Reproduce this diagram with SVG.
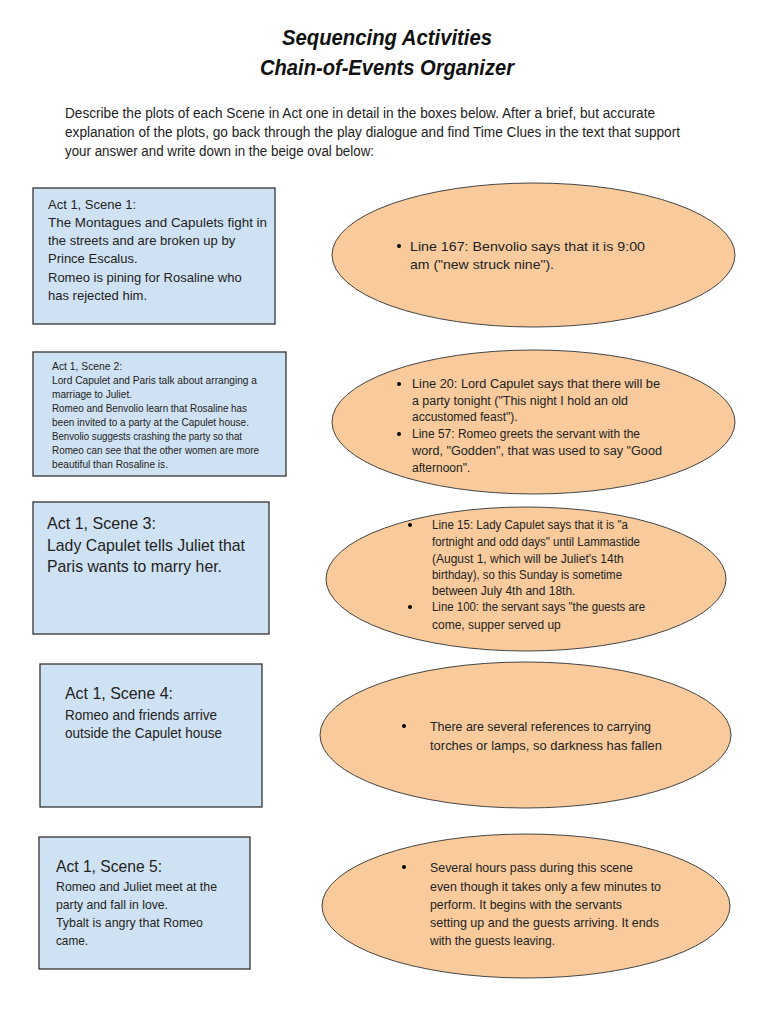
<svg xmlns="http://www.w3.org/2000/svg" width="768" height="1024" viewBox="0 0 768 1024">
<style>
text{font-family:"Liberation Sans",Arial,sans-serif;fill:#222}
.title{font-size:22px;font-weight:bold;font-style:italic;text-anchor:middle;fill:#111}
.intro{font-size:14px;fill:#333}
.box{fill:#cfe2f3;stroke:#333;stroke-width:1.3}
.oval{fill:#f9cb9c;stroke:#444;stroke-width:1}
.t13{font-size:13px}
.t10{font-size:10.2px}
.t17{font-size:17px}
.t14{font-size:14px}
.o12{font-size:12px}
.o13{font-size:13px}
</style>
<rect width="768" height="1024" fill="#fff"/>
<g id="title">
<text class="title" x="387" y="45" textLength="210" lengthAdjust="spacingAndGlyphs">Sequencing Activities</text>
<text class="title" x="387" y="75" textLength="254" lengthAdjust="spacingAndGlyphs">Chain-of-Events Organizer</text>
</g>
<g id="intro" class="intro">
<text x="65" y="118" textLength="590" lengthAdjust="spacingAndGlyphs">Describe the plots of each Scene in Act one in detail in the boxes below. After a brief, but accurate</text>
<text x="65" y="137" textLength="615" lengthAdjust="spacingAndGlyphs">explanation of the plots, go back through the play dialogue and find Time Clues in the text that support</text>
<text x="65" y="156" textLength="309" lengthAdjust="spacingAndGlyphs">your answer and write down in the beige oval below:</text>
</g>
<g id="scene1">
<rect class="box" x="33" y="188" width="242" height="136"/>
<g class="t13">
<text x="48" y="209">Act 1, Scene 1:</text>
<text x="48" y="227" textLength="219" lengthAdjust="spacingAndGlyphs">The Montagues and Capulets fight in</text>
<text x="48" y="245">the streets and are broken up by</text>
<text x="48" y="263">Prince Escalus.</text>
<text x="48" y="282">Romeo is pining for Rosaline who</text>
<text x="48" y="300">has rejected him.</text>
</g>
</g>
<g id="clue1">
<ellipse class="oval" cx="533.5" cy="255" rx="201.5" ry="72"/>
<circle cx="399" cy="246" r="2"/>
<g class="o13">
<text x="410" y="251" textLength="235" lengthAdjust="spacingAndGlyphs">Line 167: Benvolio says that it is 9:00</text>
<text x="410" y="269" textLength="144" lengthAdjust="spacingAndGlyphs">am ("new struck nine").</text>
</g>
</g>
<g id="scene2">
<rect class="box" x="33" y="352" width="253" height="124"/>
<g class="t10">
<text x="52" y="370" textLength="70" lengthAdjust="spacingAndGlyphs">Act 1, Scene 2:</text>
<text x="52" y="384" textLength="205" lengthAdjust="spacingAndGlyphs">Lord Capulet and Paris talk about arranging a</text>
<text x="52" y="398" textLength="80" lengthAdjust="spacingAndGlyphs">marriage to Juliet.</text>
<text x="52" y="412" textLength="195" lengthAdjust="spacingAndGlyphs">Romeo and Benvolio learn that Rosaline has</text>
<text x="52" y="426" textLength="197" lengthAdjust="spacingAndGlyphs">been invited to a party at the Capulet house.</text>
<text x="52" y="440" textLength="190" lengthAdjust="spacingAndGlyphs">Benvolio suggests crashing the party so that</text>
<text x="52" y="454" textLength="207" lengthAdjust="spacingAndGlyphs">Romeo can see that the other women are more</text>
<text x="52" y="468" textLength="116" lengthAdjust="spacingAndGlyphs">beautiful than Rosaline is.</text>
</g>
</g>
<g id="clue2">
<ellipse class="oval" cx="533.5" cy="422" rx="201.5" ry="72"/>
<circle cx="399" cy="384" r="2"/>
<circle cx="399" cy="434" r="2"/>
<g class="o12">
<text x="412" y="388" textLength="248" lengthAdjust="spacingAndGlyphs">Line 20: Lord Capulet says that there will be</text>
<text x="412" y="405" textLength="216" lengthAdjust="spacingAndGlyphs">a party tonight ("This night I hold an old</text>
<text x="412" y="421">accustomed feast").</text>
<text x="412" y="438" textLength="228" lengthAdjust="spacingAndGlyphs">Line 57: Romeo greets the servant with the</text>
<text x="412" y="455" textLength="250" lengthAdjust="spacingAndGlyphs">word, "Godden", that was used to say "Good</text>
<text x="412" y="472">afternoon".</text>
</g>
</g>
<g id="scene3">
<rect class="box" x="33" y="502" width="236" height="132"/>
<g class="t17">
<text x="47" y="529" textLength="109" lengthAdjust="spacingAndGlyphs">Act 1, Scene 3:</text>
<text x="47" y="551" textLength="198" lengthAdjust="spacingAndGlyphs">Lady Capulet tells Juliet that</text>
<text x="47" y="572" textLength="175" lengthAdjust="spacingAndGlyphs">Paris wants to marry her.</text>
</g>
</g>
<g id="clue3">
<ellipse class="oval" cx="526" cy="579" rx="200" ry="72"/>
<circle cx="410" cy="525" r="2"/>
<circle cx="410" cy="607" r="2"/>
<g class="o12">
<text x="432" y="529" textLength="196" lengthAdjust="spacingAndGlyphs">Line 15: Lady Capulet says that it is "a</text>
<text x="432" y="546" textLength="208" lengthAdjust="spacingAndGlyphs">fortnight and odd days" until Lammastide</text>
<text x="432" y="563">(August 1, which will be Juliet's 14th</text>
<text x="432" y="579" textLength="190" lengthAdjust="spacingAndGlyphs">birthday), so this Sunday is sometime</text>
<text x="432" y="595">between July 4th and 18th.</text>
<text x="432" y="611" textLength="213" lengthAdjust="spacingAndGlyphs">Line 100: the servant says "the guests are</text>
<text x="432" y="629">come, supper served up</text>
</g>
</g>
<g id="scene4">
<rect class="box" x="40" y="664" width="222" height="143"/>
<text class="t17" x="65" y="699" textLength="108" lengthAdjust="spacingAndGlyphs">Act 1, Scene 4:</text>
<g class="t14">
<text x="65" y="720" textLength="152" lengthAdjust="spacingAndGlyphs">Romeo and friends arrive</text>
<text x="65" y="738" textLength="157" lengthAdjust="spacingAndGlyphs">outside the Capulet house</text>
</g>
</g>
<g id="clue4">
<ellipse class="oval" cx="525.5" cy="735" rx="205.5" ry="73"/>
<circle cx="404" cy="726" r="2"/>
<g class="o13">
<text x="430" y="731" textLength="221" lengthAdjust="spacingAndGlyphs">There are several references to carrying</text>
<text x="430" y="750" textLength="232" lengthAdjust="spacingAndGlyphs">torches or lamps, so darkness has fallen</text>
</g>
</g>
<g id="scene5">
<rect class="box" x="39" y="837" width="211" height="132"/>
<text class="t17" x="56" y="872" textLength="106" lengthAdjust="spacingAndGlyphs">Act 1, Scene 5:</text>
<g class="t13">
<text x="56" y="891" textLength="161" lengthAdjust="spacingAndGlyphs">Romeo and Juliet meet at the</text>
<text x="56" y="909" textLength="112" lengthAdjust="spacingAndGlyphs">party and fall in love.</text>
<text x="56" y="927" textLength="147" lengthAdjust="spacingAndGlyphs">Tybalt is angry that Romeo</text>
<text x="56" y="945" textLength="32" lengthAdjust="spacingAndGlyphs">came.</text>
</g>
</g>
<g id="clue5">
<ellipse class="oval" cx="526" cy="906" rx="204" ry="72"/>
<circle cx="404" cy="867" r="2"/>
<g class="o13">
<text x="430" y="872" textLength="203" lengthAdjust="spacingAndGlyphs">Several hours pass during this scene</text>
<text x="430" y="891" textLength="231" lengthAdjust="spacingAndGlyphs">even though it takes only a few minutes to</text>
<text x="430" y="909" textLength="192" lengthAdjust="spacingAndGlyphs">perform. It begins with the servants</text>
<text x="430" y="927" textLength="229" lengthAdjust="spacingAndGlyphs">setting up and the guests arriving. It ends</text>
<text x="430" y="945" textLength="125" lengthAdjust="spacingAndGlyphs">with the guests leaving.</text>
</g>
</g>
<g id="connectors"></g>
</svg>
